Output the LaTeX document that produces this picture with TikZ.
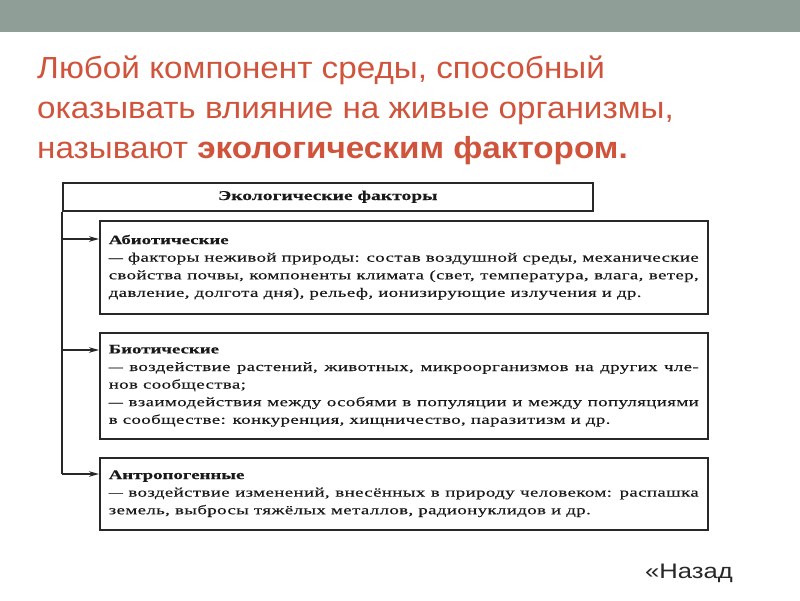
\documentclass[tikz,border=0pt]{standalone}
\usepackage{fontspec}
\usepackage{graphicx}
\setmainfont{Liberation Serif}
\newfontfamily\titlefont[FakeStretch=1.09]{Liberation Sans}
\newfontfamily\navfont[FakeStretch=1.22]{Liberation Sans}
\newfontfamily\bookfont[FakeStretch=1.45,LetterSpace=3,FakeBold=0.25,BoldFeatures={LetterSpace=0,FakeBold=0.3}]{Liberation Serif}
\newcommand\shortdash{\scalebox{0.75}[1]{—}}
\usetikzlibrary{arrows.meta}
\definecolor{barcol}{RGB}{143,159,151}
\definecolor{titlecol}{RGB}{208,84,60}
\definecolor{linecol}{RGB}{40,40,40}
\definecolor{txtcol}{RGB}{25,25,25}
\definecolor{navcol}{RGB}{40,40,40}
\tikzset{
  titleline/.style={anchor=base west, inner sep=0pt, text=titlecol, font=\titlefont\fontsize{30.5}{36}\selectfont},
  headbox/.style={draw=linecol, line width=1.5pt, rectangle, anchor=north west, minimum width=530pt, minimum height=28pt, inner sep=0pt, text=txtcol, font=\bookfont\bfseries\fontsize{13.5}{16}\selectfont},
  factbox/.style={draw=linecol, line width=1.5pt, rectangle, anchor=north west, inner xsep=9pt, inner ysep=0pt, text width=590pt, align=justify, text=txtcol, font=\bookfont\fontsize{13}{17.6}\selectfont},
  trunk/.style={draw=linecol, line width=1.5pt},
  feed/.style={draw=linecol, line width=1.5pt, -{Stealth[length=10pt,width=5.5pt]}},
  navlink/.style={anchor=base west, inner sep=0pt, text=navcol, font=\navfont\fontsize{21}{24}\selectfont}
}
\begin{document}
\begin{tikzpicture}[x=1pt,y=-1pt]
\useasboundingbox (0,0) rectangle (800,600);
\fill[white] (0,0) rectangle (800,600);
\fill[barcol] (0,0) rectangle (800,32);

\node[titleline] (t1) at (37,78) {Любой компонент среды, способный};
\node[titleline] (t2) at (37,118) {оказывать влияние на живые организмы,};
\node[titleline] (t3) at (37,158) {называют \textbf{экологическим фактором.}};

\node[headbox] (hdr) at (62,182) {Экологические факторы};

\node[factbox, minimum height=93pt] (b1) at (99,220) {\textbf{Абиотические}\\
\shortdash{} факторы неживой природы: состав воздушной среды, механические\linebreak
свойства почвы, компоненты климата (свет, температура, влага, ветер,\linebreak
давление, долгота дня), рельеф, ионизирующие излучения и~др.};

\node[factbox, minimum height=106pt] (b2) at (99,332) {\textbf{Биотические}\\
\shortdash{} воздействие растений, животных, микроорганизмов на других чле-\linebreak
нов сообщества;\\
\shortdash{} взаимодействия между особями в популяции и между популяциями\linebreak
в сообществе: конкуренция, хищничество, паразитизм и~др.};

\node[factbox, minimum height=72pt] (b3) at (99,457) {\textbf{Антропогенные}\\
\shortdash{} воздействие изменений, внесённых в природу человеком: распашка\linebreak
земель, выбросы тяжёлых металлов, радионуклидов и~др.};

\coordinate (j1) at (62,239);
\coordinate (j2) at (62,350);
\coordinate (j3) at (62,474);
\draw[trunk] (hdr.south west) -- (j3);
\draw[feed] (j1) -- (j1 -| b1.west);
\draw[feed] (j2) -- (j2 -| b2.west);
\draw[feed] (j3) -- (j3 -| b3.west);

\node[navlink] (nav) at (645,578) {«Назад};
\end{tikzpicture}
\end{document}
